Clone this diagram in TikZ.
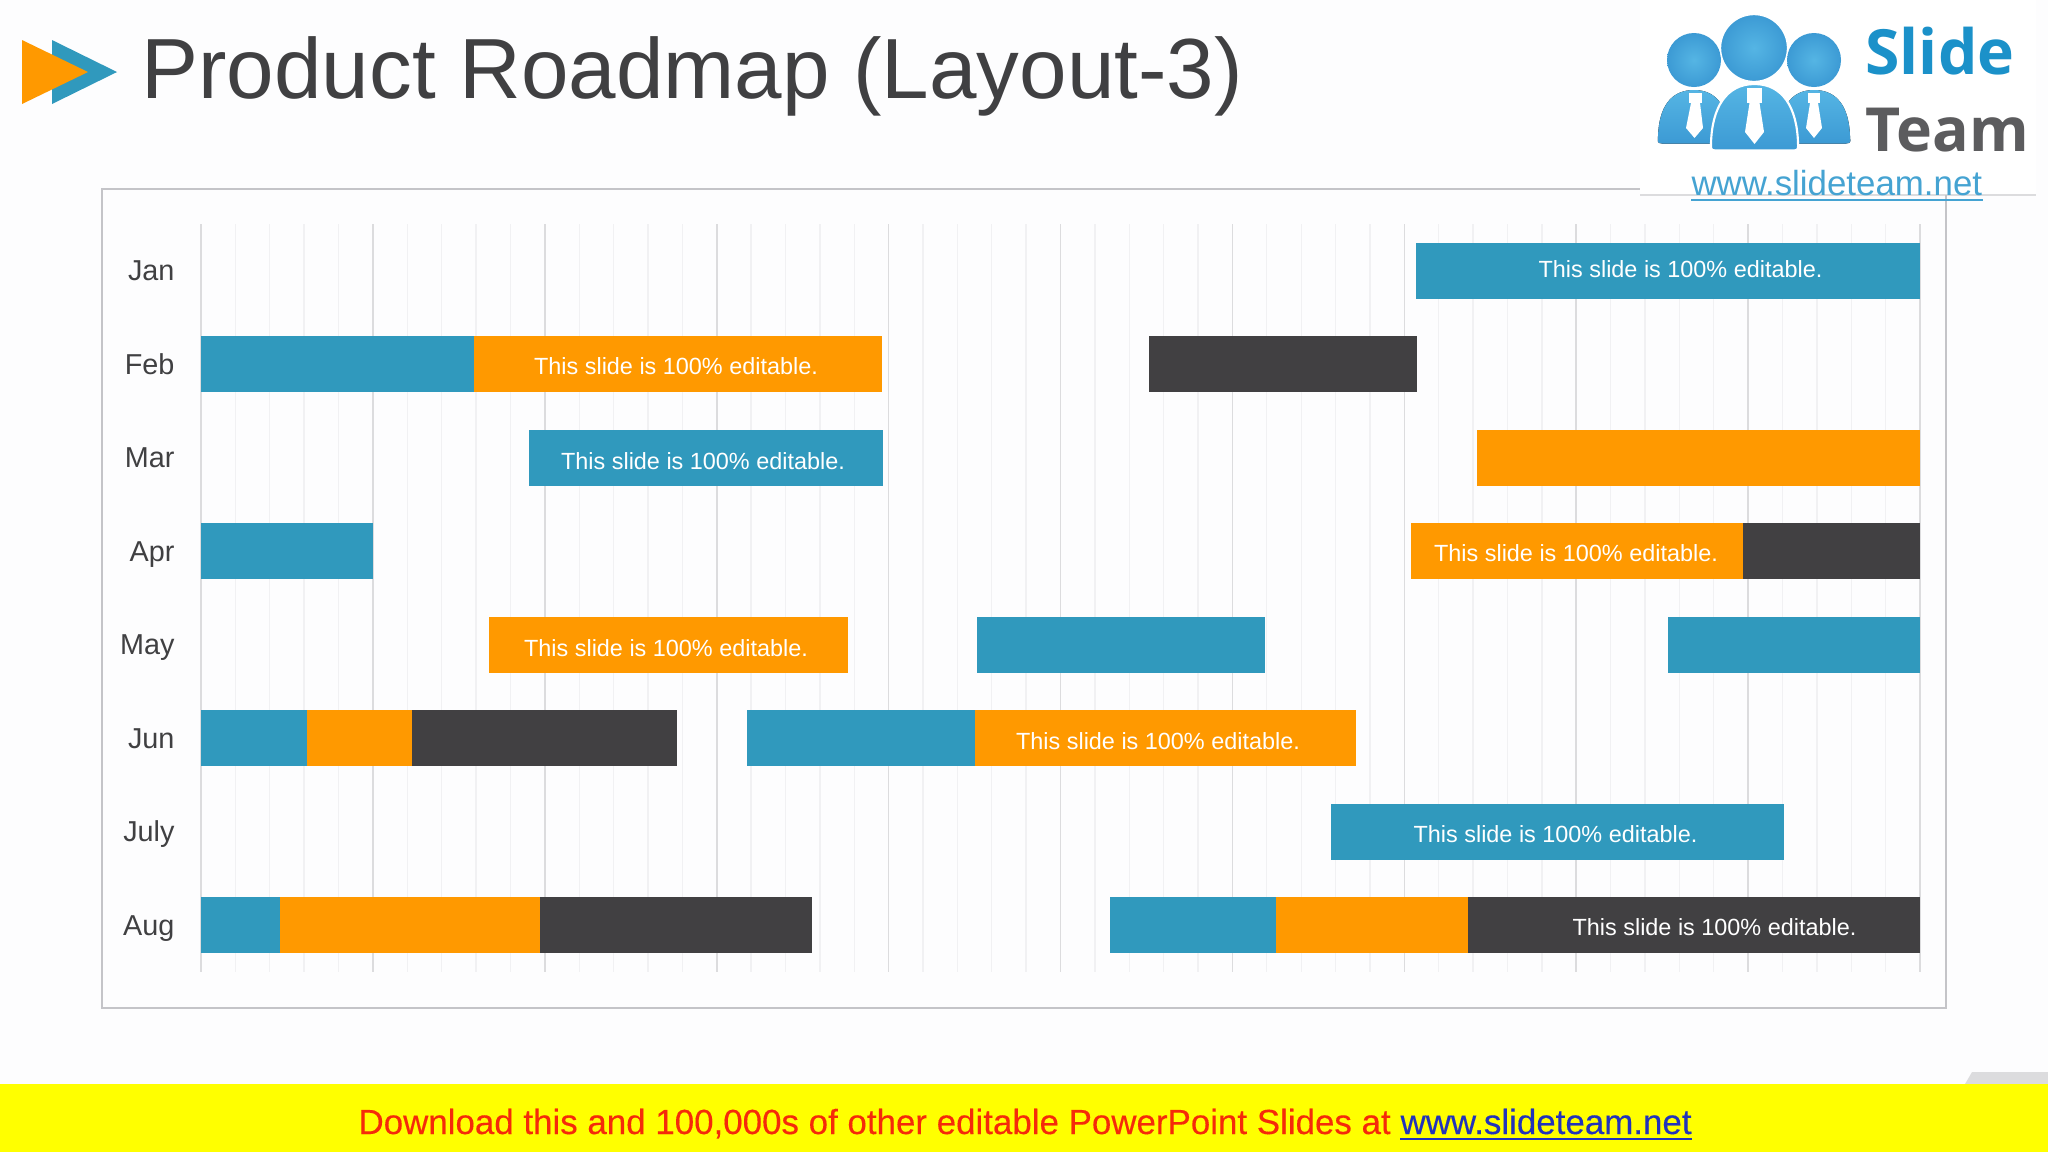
\documentclass[tikz,border=0pt]{standalone}
\usepackage{fontspec}
\setmainfont{Liberation Sans}
\newfontfamily\logofont{Open Sans}
\newfontfamily\footfont[FakeBold=0.25]{Liberation Sans}
\definecolor{teal}{HTML}{3099BD}
\definecolor{orng}{HTML}{FF9900}
\definecolor{dark}{HTML}{414042}
\definecolor{titlec}{HTML}{404042}
\definecolor{gridmin}{HTML}{F1F1F3}
\definecolor{gridmaj}{HTML}{DCDCDE}
\definecolor{framec}{HTML}{C4C4C8}
\definecolor{logoblue}{HTML}{55B5E4}
\definecolor{logodeep}{HTML}{3C9AD4}
\definecolor{slidec}{HTML}{1B91C9}
\definecolor{teamc}{HTML}{5C5C5E}
\definecolor{urlc}{HTML}{45A3D2}
\definecolor{bgc}{HTML}{FDFDFE}
\definecolor{bandc}{HTML}{FFFF00}
\definecolor{footred}{HTML}{F52A0A}
\definecolor{footblue}{HTML}{2233BB}
\newcommand{\gbar}[5]{% name, x1, x2, row, colour
  \node[barbox,fill=#5,minimum width={(#3-#2)*0.375pt},minimum height=21pt] (#1) at ({(#2+#3)/2},{270.6+93.55*#4}) {};}
\tikzset{
  barbox/.style={inner sep=0pt,outer sep=0pt,draw=none},
  bartext/.style={text=white,font=\fontsize{8.78pt}{10pt}\selectfont,inner sep=0pt},
  month/.style={text=titlec,font=\fontsize{10.8pt}{12pt}\selectfont,anchor=base east,inner sep=0pt},
  body/.style={top color=logoblue,bottom color=logodeep,draw=none},
}
\begin{document}
\begin{tikzpicture}[x=0.375pt,y=-0.375pt]
\useasboundingbox (0,0) rectangle (2048,1152);
\fill[bgc] (0,0) rectangle (2048,1152);
% frame
\draw[framec,line width=1pt] (102,189) rectangle (1946,1008);
% grid
\foreach \i in {0,...,50}{
  \pgfmathsetmacro{\gx}{201+34.38*\i}
  \pgfmathtruncatemacro{\m}{mod(\i,5)}
  \ifnum\m=0
    \draw[gridmaj,line width=0.6pt] (\gx,224) -- (\gx,972);
  \else
    \draw[gridmin,line width=0.5pt] (\gx,224) -- (\gx,972);
  \fi
}
% bars
\gbar{ja}{1416}{1920}{0}{teal}
\gbar{fa}{201}{474}{1}{teal}
\gbar{fb}{474}{882}{1}{orng}
\gbar{fc}{1149}{1417}{1}{dark}
\gbar{ma}{529}{883}{2}{teal}
\gbar{mb}{1477}{1920}{2}{orng}
\gbar{aa}{201}{373}{3}{teal}
\gbar{ab}{1411}{1743}{3}{orng}
\gbar{ac}{1743}{1920}{3}{dark}
\gbar{ya}{489}{848}{4}{orng}
\gbar{yb}{977}{1265}{4}{teal}
\gbar{yc}{1668}{1920}{4}{teal}
\gbar{na}{201}{307}{5}{teal}
\gbar{nb}{307}{412}{5}{orng}
\gbar{nc}{412}{677}{5}{dark}
\gbar{nd}{747}{975}{5}{teal}
\gbar{ne}{975}{1356}{5}{orng}
\gbar{la}{1331}{1784}{6}{teal}
\gbar{ga}{201}{280}{7}{teal}
\gbar{gb}{280}{540}{7}{orng}
\gbar{gc}{540}{812}{7}{dark}
\gbar{gd}{1110}{1276}{7}{teal}
\gbar{ge}{1276}{1468}{7}{orng}
\gbar{gf}{1468}{1920}{7}{dark}
% bar texts
\newcommand{\bt}{This slide is 100\% editable.}
\node[bartext] (tj) at (1680.5,269) {\bt};
\node[bartext] (tf) at (676,366) {\bt};
\node[bartext] (tm) at (703,461) {\bt};
\node[bartext] (ta) at (1576,553) {\bt};
\node[bartext] (ty) at (666,648.5) {\bt};
\node[bartext] (tn) at (1158,741) {\bt};
\node[bartext] (tl) at (1555.5,834) {\bt};
\node[bartext] (tg) at (1714.5,927.5) {\bt};
% months
\node[month] (m1) at (175,280.5) {Jan};
\node[month] (m2) at (175,374) {Feb};
\node[month] (m3) at (175,467.5) {Mar};
\node[month] (m4) at (175,561) {Apr};
\node[month] (m5) at (175,654.5) {May};
\node[month] (m6) at (175,748) {Jun};
\node[month] (m7) at (175,841.5) {July};
\node[month] (m8) at (175,935) {Aug};
% title
\fill[teal] (52,40) -- (52,104) -- (117,72) -- cycle;
\fill[orng] (22,40) -- (22,104) -- (88,72) -- cycle;
\node[anchor=base west,inner sep=0pt,text=titlec,font=\fontsize{32.03pt}{36pt}\selectfont] (title) at (141,98.5) {Product Roadmap (Layout-3)};
% logo patch
\fill[white] (1640,0) rectangle (2036,195);
\draw[gridmaj,line width=0.5pt] (1640,195) -- (2036,195);
\draw[framec,line width=0.5pt] (1946,195) -- (1946,220);
% logo people
\fill[body] (1662,143.5) .. controls (1656,143.5) and (1658,140) .. (1658,136) .. controls (1659,108) and (1670,90) .. (1694,90) .. controls (1718,90) and (1729,108) .. (1730,143.5) -- cycle;
\fill[body] (1846,143.5) .. controls (1852,143.5) and (1850,140) .. (1850,136) .. controls (1849,108) and (1838,90) .. (1814,90) .. controls (1790,90) and (1779,108) .. (1778,143.5) -- cycle;
\fill[white] (1689,93) rectangle (1702,103);
\fill[white] (1691,103) -- (1700,103) -- (1703,128) -- (1694.5,138) -- (1686,128) -- cycle;
\fill[white] (1808,93) rectangle (1820,103);
\fill[white] (1810,103) -- (1818,103) -- (1822,128) -- (1814,138) -- (1806,128) -- cycle;
\draw[white,line width=0.8pt,top color=logoblue,bottom color=logodeep] (1715,150.5) .. controls (1710,150.5) and (1711,147) .. (1711,143) .. controls (1712,108) and (1726,84) .. (1754.5,84) .. controls (1783,84) and (1797,108) .. (1798,143) .. controls (1798,147) and (1799,150.5) .. (1794,150.5) -- cycle;
\fill[white] (1747,88) rectangle (1762,103);
\fill[white] (1749.5,103) -- (1759.5,103) -- (1764,132) -- (1754.5,144) -- (1745,132) -- cycle;
\shade[inner color=logoblue,outer color=logodeep] (1694,60) circle (27);
\shade[inner color=logoblue,outer color=logodeep] (1814,60) circle (27);
\draw[white,line width=0.5pt,inner color=logoblue,outer color=logodeep] (1754,48) circle (33.5);
% logo text
\node[anchor=base west,inner sep=0pt,text=slidec,font=\logofont\bfseries\fontsize{23.4pt}{26pt}\selectfont] (slide) at (1865,74) {Slide};
\node[anchor=base west,inner sep=0pt,text=teamc,font=\logofont\bfseries\fontsize{22.8pt}{26pt}\selectfont] (team) at (1865,151) {Team};
\node[anchor=base west,inner sep=0pt,text=urlc,font=\fontsize{13.07pt}{15pt}\selectfont] (url) at (1691,195) {www.slideteam.net};
\draw[urlc,line width=0.8pt] ([yshift=-1.9pt]url.base west) -- ([yshift=-1.9pt]url.base east);
% footer
\fill[gridmaj] (1965,1084) -- (1972,1072) -- (2048,1072) -- (2048,1084) -- cycle;
\fill[bandc] (0,1084) rectangle (2048,1152);
\node[anchor=base west,inner sep=0pt,font=\footfont\fontsize{13.09pt}{15pt}\selectfont,text=footred] (foot) at (358,1134) {Download this and 100,000s of other editable PowerPoint Slides at};
\node[anchor=base west,inner sep=0pt,font=\footfont\fontsize{13.09pt}{15pt}\selectfont,text=footblue] (link) at (1400,1134) {www.slideteam.net};
\draw[footblue,line width=0.7pt] ([yshift=-1.9pt]link.base west) -- ([yshift=-1.9pt]link.base east);
\end{tikzpicture}
\end{document}
